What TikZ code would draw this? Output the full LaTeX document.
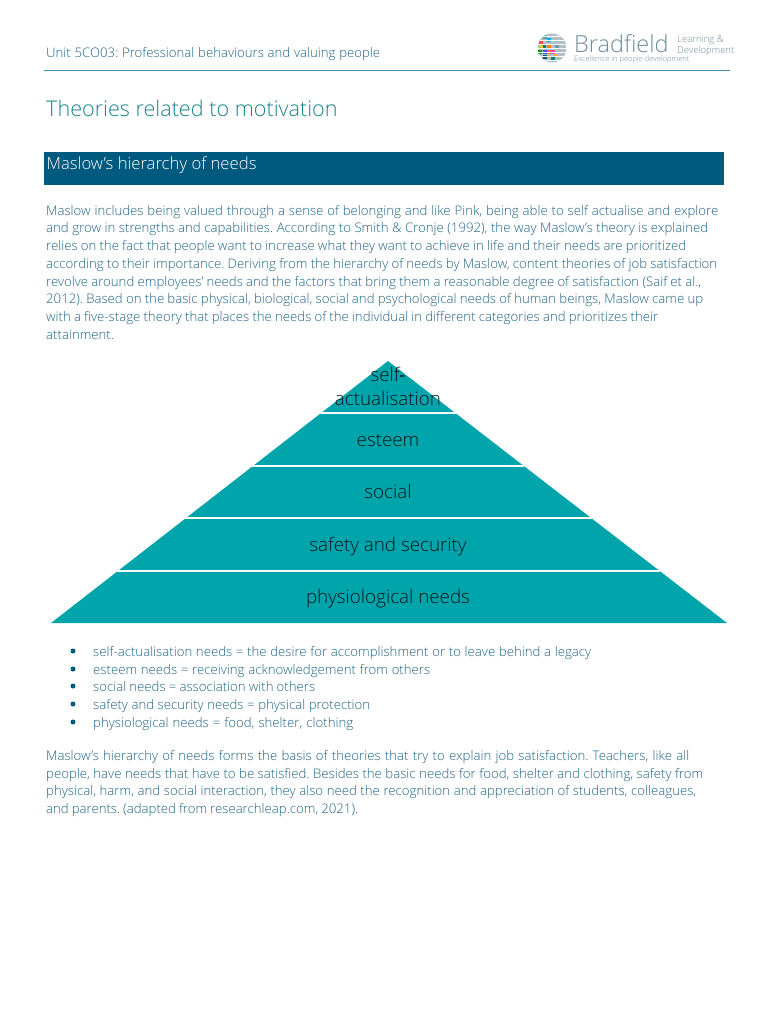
\documentclass[tikz,border=0pt]{standalone}
\usepackage{fontspec}
\setmainfont{Open Sans Light}
\newfontfamily\hyphenfont{Open Sans}
\usetikzlibrary{calc}
\definecolor{bandblue}{HTML}{005A7F}
\definecolor{bodyblue}{HTML}{1F6385}
\definecolor{headteal}{HTML}{17848C}
\definecolor{pyrteal}{HTML}{00A4AB}
\definecolor{rulecol}{HTML}{3C93AE}
\definecolor{logogrey}{HTML}{6F8C9C}
\newcommand{\fitline}[2]{\hbox to #1pt{#2}}
\tikzset{
  bodyline/.style={anchor=base west,inner sep=0pt,text=bodyblue,font=\fontsize{13.2}{16}\selectfont\frenchspacing},
  tierlabel/.style={anchor=base,inner sep=0pt,text=black!85!pyrteal,font=\fontsize{18.8}{22}\selectfont},
  bullet/.style={circle,fill=bandblue,inner sep=0pt,minimum size=5pt},
  logotext/.style={anchor=base west,inner sep=0pt,text=logogrey}
}
\begin{document}
\begin{tikzpicture}[x=1pt,y=-1pt]
\useasboundingbox (0,0) rectangle (768,1024);
% header
\node[bodyline] (unit) at (46,58) {\fitline{334}{Unit 5CO03: Professional behaviours and valuing people}};
\coordinate (ruleL) at (44,71);
\coordinate (ruleR) at (730,71);
\draw[rulecol,line width=1pt] (ruleL) -- (ruleR);
% logo
\begin{scope}
\clip (552,48) circle (14.5);
\fill[logogrey!55] (537,33) rectangle (567,63);
\foreach \x/\y/\c in {541/42/red!70,545/52/blue!70,549/46/orange,544/47/teal,548/57/yellow!80!black,553/52/magenta!70,540/52/green!60!black,549/40/cyan,557/46/bandblue!60,556/56/orange!70,545/37/teal!70,549/52/red!60,541/47/yellow!80!black,553/58/teal,545/57/bandblue}
  \fill[\c] (\x-2,\y-2) rectangle (\x+2,\y+2);
\foreach \d in {36,40,44,48,52,56,60}{
  \draw[white,line width=.25pt] (\d+1,33) -- (\d+1,63);
  \draw[white,line width=.25pt] (537,\d) -- (567,\d);
}
\end{scope}
\node[logotext,font=\fontsize{23.5}{24}\selectfont] (brand) at (574,53) {Bradfield};
\node[logotext,font=\fontsize{7.55}{9}\selectfont] (slogan) at (574,62) {Excellence in people development};
\node[logotext,font=\fontsize{9.5}{10}\selectfont] (learn) at (677,43) {Learning \&};
\node[logotext,font=\fontsize{9.5}{10}\selectfont] (develop) at (677,54) {Development};
% title
\node[anchor=base west,inner sep=0pt,text=headteal,font=\fontsize{21.6}{26}\selectfont] (title) at (46,117) {Theories related to motivation};
\fill[bandblue] (44,152) rectangle (724,185);
\node[anchor=base west,inner sep=0pt,text=white,font=\fontsize{16.7}{20}\selectfont] (band) at (46.5,170) {Maslow’s hierarchy of needs};
% intro text
\node[bodyline] (p1) at (46,215) {\fitline{672}{Maslow includes being valued through a sense of belonging and like Pink, being able to self actualise and explore}};
\node[bodyline] (p2) at (46,233) {\fitline{662}{and grow in strengths and capabilities. According to Smith \& Cronje (1992), the way Maslow’s theory is explained}};
\node[bodyline] (p3) at (46,250.5) {\fitline{640}{relies on the fact that people want to increase what they want to achieve in life and their needs are prioritized}};
\node[bodyline] (p4) at (46,268.5) {\fitline{671}{according to their importance. Deriving from the hierarchy of needs by Maslow, content theories of job satisfaction}};
\node[bodyline] (p5) at (46,286) {\fitline{655}{revolve around employees’ needs and the factors that bring them a reasonable degree of satisfaction (Saif et al.,}};
\node[bodyline] (p6) at (46,303.5) {\fitline{657}{2012). Based on the basic physical, biological, social and psychological needs of human beings, Maslow came up}};
\node[bodyline] (p7) at (46,321.5) {\fitline{612}{with a five-stage theory that places the needs of the individual in different categories and prioritizes their}};
\node[bodyline] (p8) at (46,339.5) {attainment.};
% pyramid
\fill[pyrteal] (388,361) -- (727,623) -- (51,623) -- cycle;
\foreach \yy/\xa/\xb in {413/320/456,466/252/524,518/185/592,571/117/660}
  \draw[white,line width=1.3pt] (\xa,\yy) -- (\xb,\yy);
\node[tierlabel] (self) at (388,381.5) {self{\hyphenfont -}};
\node[tierlabel] (actual) at (388,405.5) {actualisation};
\node[tierlabel] (esteem) at (388,446.5) {esteem};
\node[tierlabel] (social) at (388,498.5) {social};
\node[tierlabel] (safety) at (388,551) {safety and security};
\node[tierlabel] (physio) at (388,603.5) {physiological needs};
% bullets
\foreach \yy/\nm/\lw/\txt in {656/b1/498/{self-actualisation needs = the desire for accomplishment or to leave behind a legacy},
  674/b2/337/{esteem needs = receiving acknowledgement from others},
  691/b3/222/{social needs = association with others},
  709/b4/277/{safety and security needs = physical protection},
  727/b5/260/{physiological needs = food, shelter, clothing}}{
  \node[bullet] (\nm dot) at (73,\yy-5) {};
  \node[bodyline] (\nm) at (93,\yy) {\fitline{\lw}{\txt}};
}
% closing text
\node[bodyline] (q1) at (46,760) {\fitline{643}{Maslow’s hierarchy of needs forms the basis of theories that try to explain job satisfaction. Teachers, like all}};
\node[bodyline] (q2) at (46,778) {\fitline{657}{people, have needs that have to be satisfied. Besides the basic needs for food, shelter and clothing, safety from}};
\node[bodyline] (q3) at (46,795) {\fitline{650}{physical, harm, and social interaction, they also need the recognition and appreciation of students, colleagues,}};
\node[bodyline] (q4) at (46,813) {\fitline{312}{and parents. (adapted from researchleap.com, 2021).}};
\end{tikzpicture}
\end{document}
